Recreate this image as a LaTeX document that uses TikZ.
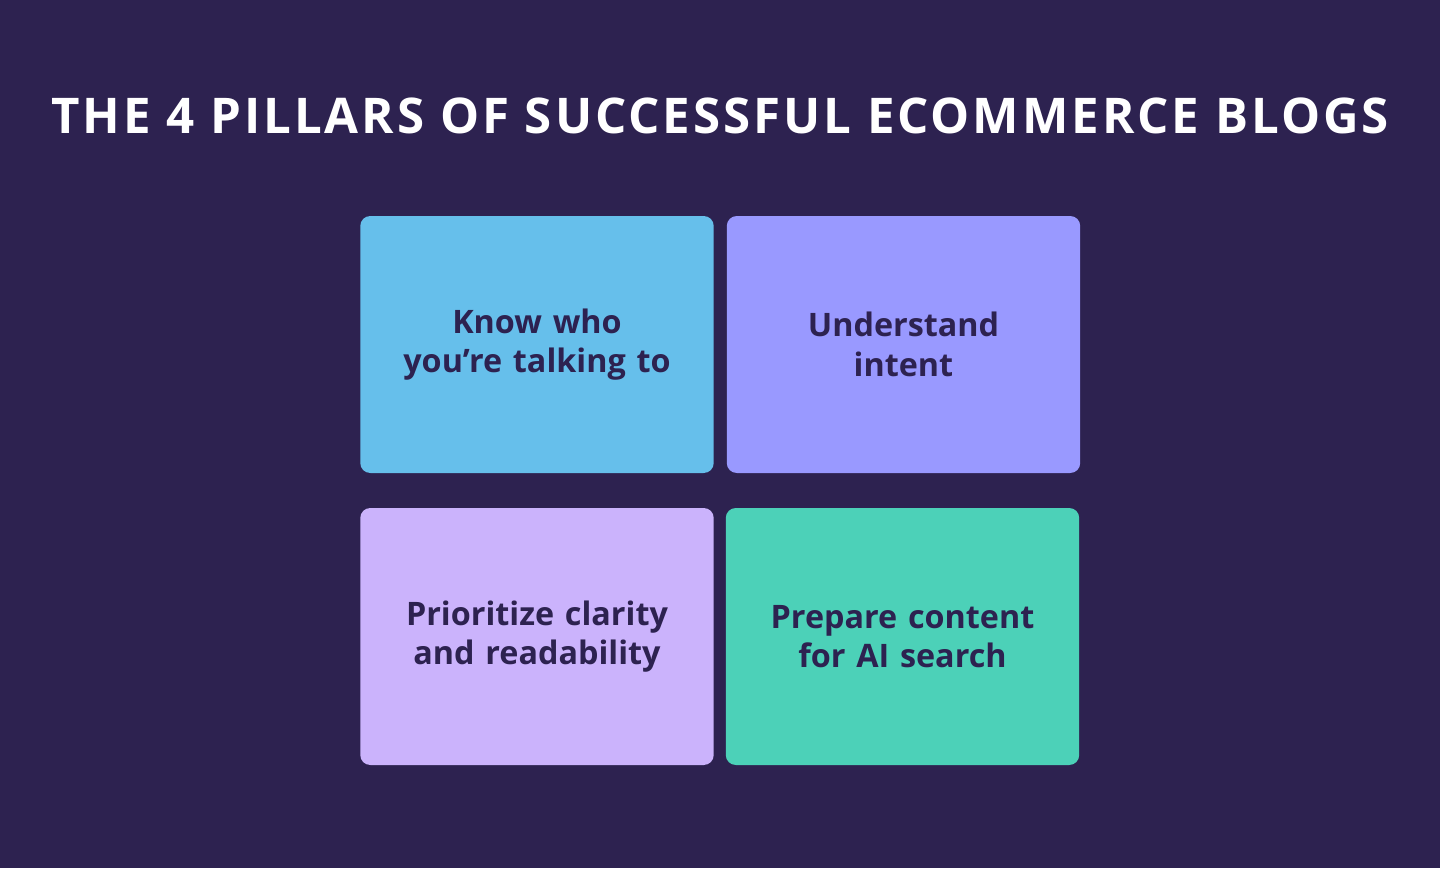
\documentclass[tikz,border=0pt]{standalone}
\usepackage{fontspec}
\setmainfont{Open Sans}
\definecolor{bgpurple}{HTML}{2D2250}
\definecolor{pillarblue}{HTML}{66BFEB}
\definecolor{pillarviolet}{HTML}{9999FF}
\definecolor{pillarlilac}{HTML}{CBB3FC}
\definecolor{pillarteal}{HTML}{4CD1B8}
\tikzset{
  pillar/.style={rounded corners=0.1cm, minimum width=3.44cm, minimum height=2.57cm,
    text width=3.3cm, align=center, text=bgpurple,
    font=\fontsize{9.2pt}{11.2pt}\selectfont\bfseries}
}
\begin{document}
\begin{tikzpicture}
% background and frame
\fill[bgpurple] (0,0) rectangle (14.4,8.68);
\useasboundingbox (0,0) rectangle (14.4,8.68);
\node[text=white, font=\fontsize{14pt}{16pt}\addfontfeatures{LetterSpace=6}\bfseries] (title) at (7.2,7.52) {THE 4 PILLARS OF SUCCESSFUL ECOMMERCE BLOGS};
% the four pillars
\node[pillar, fill=pillarblue] (know) at (5.37,5.235) {Know who\\you're talking to};
\node[pillar, fill=pillarviolet] (intent) at (9.035,5.235) {Understand\\intent};
\node[pillar, fill=pillarlilac] (clarity) at (5.37,2.315) {Prioritize clarity\\and readability};
\node[pillar, fill=pillarteal] (aisearch) at (9.025,2.315) {Prepare content\\for AI search};
\end{tikzpicture}
\end{document}
